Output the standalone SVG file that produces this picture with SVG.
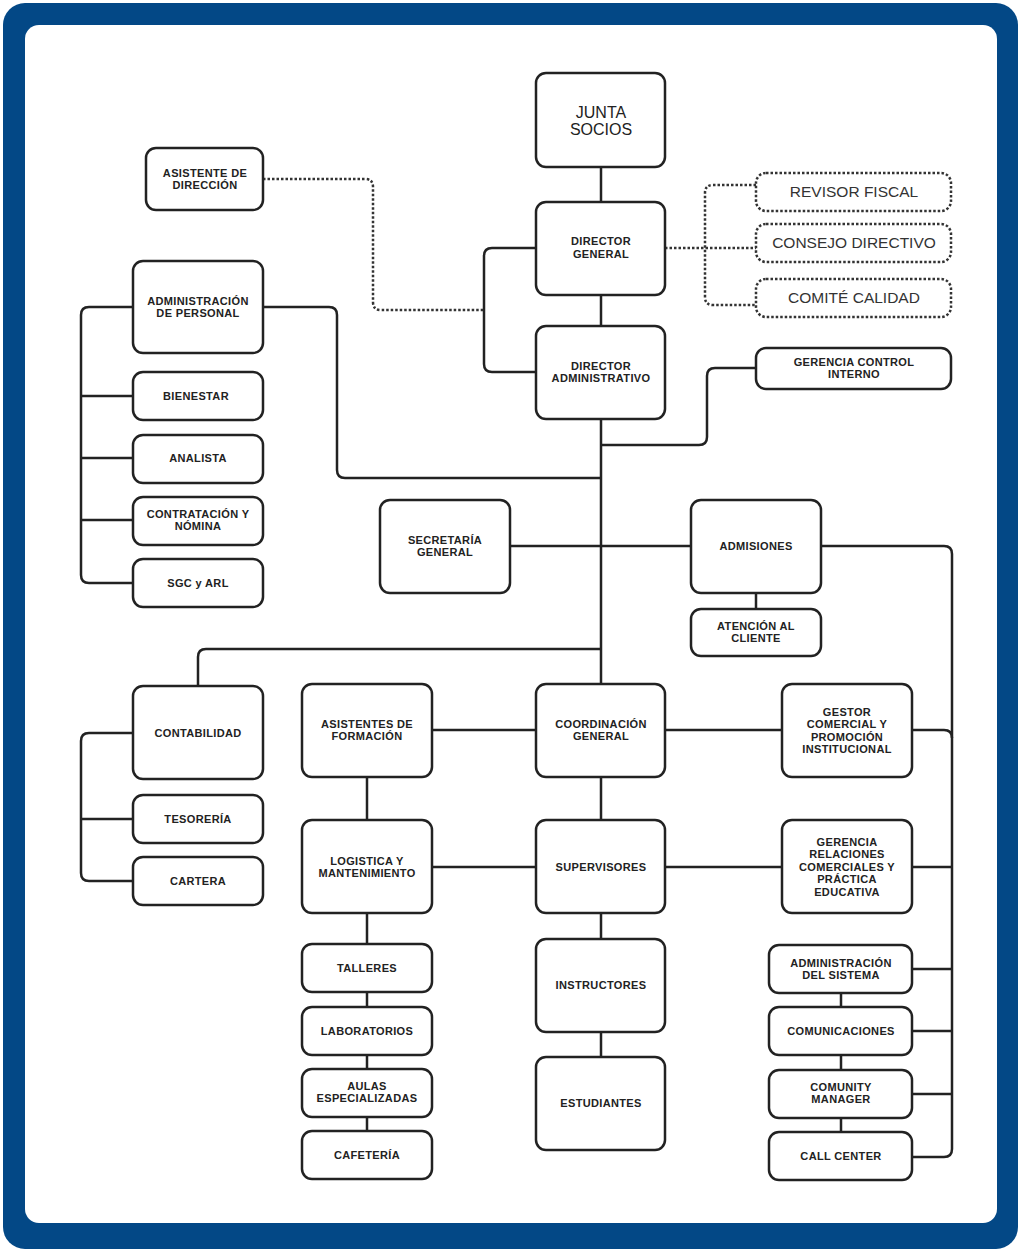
<svg xmlns="http://www.w3.org/2000/svg" width="1021" height="1252" viewBox="0 0 1021 1252">
<defs>
<style>
.n rect{fill:#fff;stroke:#222;stroke-width:2.5}
.d rect{fill:#fff;stroke:#333;stroke-width:2.5;stroke-dasharray:2.5 2}
.t{font-family:"Liberation Sans",Arial,sans-serif;font-weight:bold;font-size:11px;letter-spacing:0.35px;fill:#222;text-anchor:middle}
.b{font-family:"Liberation Sans",Arial,sans-serif;font-size:16px;fill:#222;text-anchor:middle}
.m{font-family:"Liberation Sans",Arial,sans-serif;font-size:15.5px;fill:#333;text-anchor:middle}
#conn path{fill:none;stroke:#222;stroke-width:2.5}
#conn path.dot{stroke:#333;stroke-dasharray:2.5 2}
</style>
</defs>
<rect x="3" y="3" width="1015" height="1246" rx="22" fill="#034886"/>
<rect x="25" y="25" width="972" height="1198" rx="14" fill="#fff"/>

<g id="conn">
<path d="M601,167V202"/>
<path d="M601,295V326"/>
<path d="M601,419V684"/>
<path d="M536,248H492Q484,248 484,256V364Q484,372 492,372H536"/>
<path d="M263,307H329Q337,307 337,315V470Q337,478 345,478H601"/>
<path d="M133,307H89Q81,307 81,315V575Q81,583 89,583H133"/>
<path d="M81,396H133M81,458H133M81,520H133"/>
<path d="M601,445H699Q707,445 707,437V376Q707,368 715,368H756"/>
<path d="M510,546H691"/>
<path d="M821,546H944Q952,546 952,554V1149Q952,1157 944,1157H912"/>
<path d="M756,593V609"/>
<path d="M601,649H206Q198,649 198,657V686"/>
<path d="M133,733H89Q81,733 81,741V873Q81,881 89,881H133"/>
<path d="M81,819H133"/>
<path d="M432,730H536M665,730H782"/>
<path d="M912,730H944Q952,730 952,738"/>
<path d="M367,777V820"/>
<path d="M432,867H536M665,867H782M912,867H952"/>
<path d="M601,777V820M601,913V939M601,1032V1057"/>
<path d="M367,913V944M367,992V1007M367,1055V1069M367,1117V1131"/>
<path d="M912,969H952M912,1031H952M912,1094H952"/>
<path d="M841,993V1007M841,1055V1070M841,1118V1132"/>
<path class="dot" d="M263,179H365Q373,179 373,187V302Q373,310 381,310H484"/>
<path class="dot" d="M665,248H756"/>
<path class="dot" d="M756,185H713Q705,185 705,193V297Q705,305 713,305H756"/>
</g>

<g id="junta" class="n"><rect x="536" y="73" width="129" height="94" rx="10"/><text class="b" x="601" y="118">JUNTA</text><text class="b" x="601" y="135">SOCIOS</text></g>
<g id="asistente-direccion" class="n"><rect x="146" y="148" width="117" height="62" rx="10"/><text class="t" x="205" y="177">ASISTENTE DE</text><text class="t" x="205" y="189">DIRECCIÓN</text></g>
<g id="director-general" class="n"><rect x="536" y="202" width="129" height="93" rx="10"/><text class="t" x="601" y="245">DIRECTOR</text><text class="t" x="601" y="258">GENERAL</text></g>
<g id="director-administrativo" class="n"><rect x="536" y="326" width="129" height="93" rx="10"/><text class="t" x="601" y="370">DIRECTOR</text><text class="t" x="601" y="382">ADMINISTRATIVO</text></g>
<g id="revisor-fiscal" class="d"><rect x="756" y="173" width="195" height="38" rx="10"/><text class="m" x="854" y="197">REVISOR FISCAL</text></g>
<g id="consejo-directivo" class="d"><rect x="756" y="224" width="195" height="38" rx="10"/><text class="m" x="854" y="248">CONSEJO DIRECTIVO</text></g>
<g id="comite-calidad" class="d"><rect x="756" y="279" width="195" height="38" rx="10"/><text class="m" x="854" y="303">COMITÉ CALIDAD</text></g>
<g id="gerencia-control" class="n"><rect x="756" y="348" width="195" height="41" rx="10"/><text class="t" x="854" y="366">GERENCIA CONTROL</text><text class="t" x="854" y="378">INTERNO</text></g>

<g id="admin-personal" class="n"><rect x="133" y="261" width="130" height="92" rx="10"/><text class="t" x="198" y="305">ADMINISTRACIÓN</text><text class="t" x="198" y="317">DE PERSONAL</text></g>
<g id="bienestar" class="n"><rect x="133" y="372" width="130" height="48" rx="10"/><text class="t" x="196" y="400">BIENESTAR</text></g>
<g id="analista" class="n"><rect x="133" y="435" width="130" height="48" rx="10"/><text class="t" x="198" y="462">ANALISTA</text></g>
<g id="contratacion" class="n"><rect x="133" y="497" width="130" height="48" rx="10"/><text class="t" x="198" y="518">CONTRATACIÓN Y</text><text class="t" x="198" y="530">NÓMINA</text></g>
<g id="sgc-arl" class="n"><rect x="133" y="559" width="130" height="48" rx="10"/><text class="t" x="198" y="587">SGC y ARL</text></g>

<g id="secretaria" class="n"><rect x="380" y="500" width="130" height="93" rx="10"/><text class="t" x="445" y="544">SECRETARÍA</text><text class="t" x="445" y="556">GENERAL</text></g>
<g id="admisiones" class="n"><rect x="691" y="500" width="130" height="93" rx="10"/><text class="t" x="756" y="550">ADMISIONES</text></g>
<g id="atencion" class="n"><rect x="691" y="609" width="130" height="47" rx="10"/><text class="t" x="756" y="630">ATENCIÓN AL</text><text class="t" x="756" y="642">CLIENTE</text></g>

<g id="contabilidad" class="n"><rect x="133" y="686" width="130" height="93" rx="10"/><text class="t" x="198" y="737">CONTABILIDAD</text></g>
<g id="tesoreria" class="n"><rect x="133" y="795" width="130" height="48" rx="10"/><text class="t" x="198" y="823">TESORERÍA</text></g>
<g id="cartera" class="n"><rect x="133" y="857" width="130" height="48" rx="10"/><text class="t" x="198" y="885">CARTERA</text></g>

<g id="asistentes-formacion" class="n"><rect x="302" y="684" width="130" height="93" rx="10"/><text class="t" x="367" y="728">ASISTENTES DE</text><text class="t" x="367" y="740">FORMACIÓN</text></g>
<g id="coordinacion" class="n"><rect x="536" y="684" width="129" height="93" rx="10"/><text class="t" x="601" y="728">COORDINACIÓN</text><text class="t" x="601" y="740">GENERAL</text></g>
<g id="gestor" class="n"><rect x="782" y="684" width="130" height="93" rx="10"/><text class="t" x="847" y="716">GESTOR</text><text class="t" x="847" y="728">COMERCIAL Y</text><text class="t" x="847" y="741">PROMOCIÓN</text><text class="t" x="847" y="753">INSTITUCIONAL</text></g>

<g id="logistica" class="n"><rect x="302" y="820" width="130" height="93" rx="10"/><text class="t" x="367" y="865">LOGISTICA Y</text><text class="t" x="367" y="877">MANTENIMIENTO</text></g>
<g id="supervisores" class="n"><rect x="536" y="820" width="129" height="93" rx="10"/><text class="t" x="601" y="871">SUPERVISORES</text></g>
<g id="gerencia-relaciones" class="n"><rect x="782" y="820" width="130" height="93" rx="10"/><text class="t" x="847" y="846">GERENCIA</text><text class="t" x="847" y="858">RELACIONES</text><text class="t" x="847" y="871">COMERCIALES Y</text><text class="t" x="847" y="883">PRÁCTICA</text><text class="t" x="847" y="896">EDUCATIVA</text></g>

<g id="talleres" class="n"><rect x="302" y="944" width="130" height="48" rx="10"/><text class="t" x="367" y="972">TALLERES</text></g>
<g id="laboratorios" class="n"><rect x="302" y="1007" width="130" height="48" rx="10"/><text class="t" x="367" y="1035">LABORATORIOS</text></g>
<g id="aulas" class="n"><rect x="302" y="1069" width="130" height="48" rx="10"/><text class="t" x="367" y="1090">AULAS</text><text class="t" x="367" y="1102">ESPECIALIZADAS</text></g>
<g id="cafeteria" class="n"><rect x="302" y="1131" width="130" height="48" rx="10"/><text class="t" x="367" y="1159">CAFETERÍA</text></g>

<g id="instructores" class="n"><rect x="536" y="939" width="129" height="93" rx="10"/><text class="t" x="601" y="989">INSTRUCTORES</text></g>
<g id="estudiantes" class="n"><rect x="536" y="1057" width="129" height="93" rx="10"/><text class="t" x="601" y="1107">ESTUDIANTES</text></g>

<g id="admin-sistema" class="n"><rect x="769" y="945" width="143" height="48" rx="10"/><text class="t" x="841" y="967">ADMINISTRACIÓN</text><text class="t" x="841" y="979">DEL SISTEMA</text></g>
<g id="comunicaciones" class="n"><rect x="769" y="1007" width="143" height="48" rx="10"/><text class="t" x="841" y="1035">COMUNICACIONES</text></g>
<g id="comunity" class="n"><rect x="769" y="1070" width="143" height="48" rx="10"/><text class="t" x="841" y="1091">COMUNITY</text><text class="t" x="841" y="1103">MANAGER</text></g>
<g id="call-center" class="n"><rect x="769" y="1132" width="143" height="48" rx="10"/><text class="t" x="841" y="1160">CALL CENTER</text></g>
</svg>
